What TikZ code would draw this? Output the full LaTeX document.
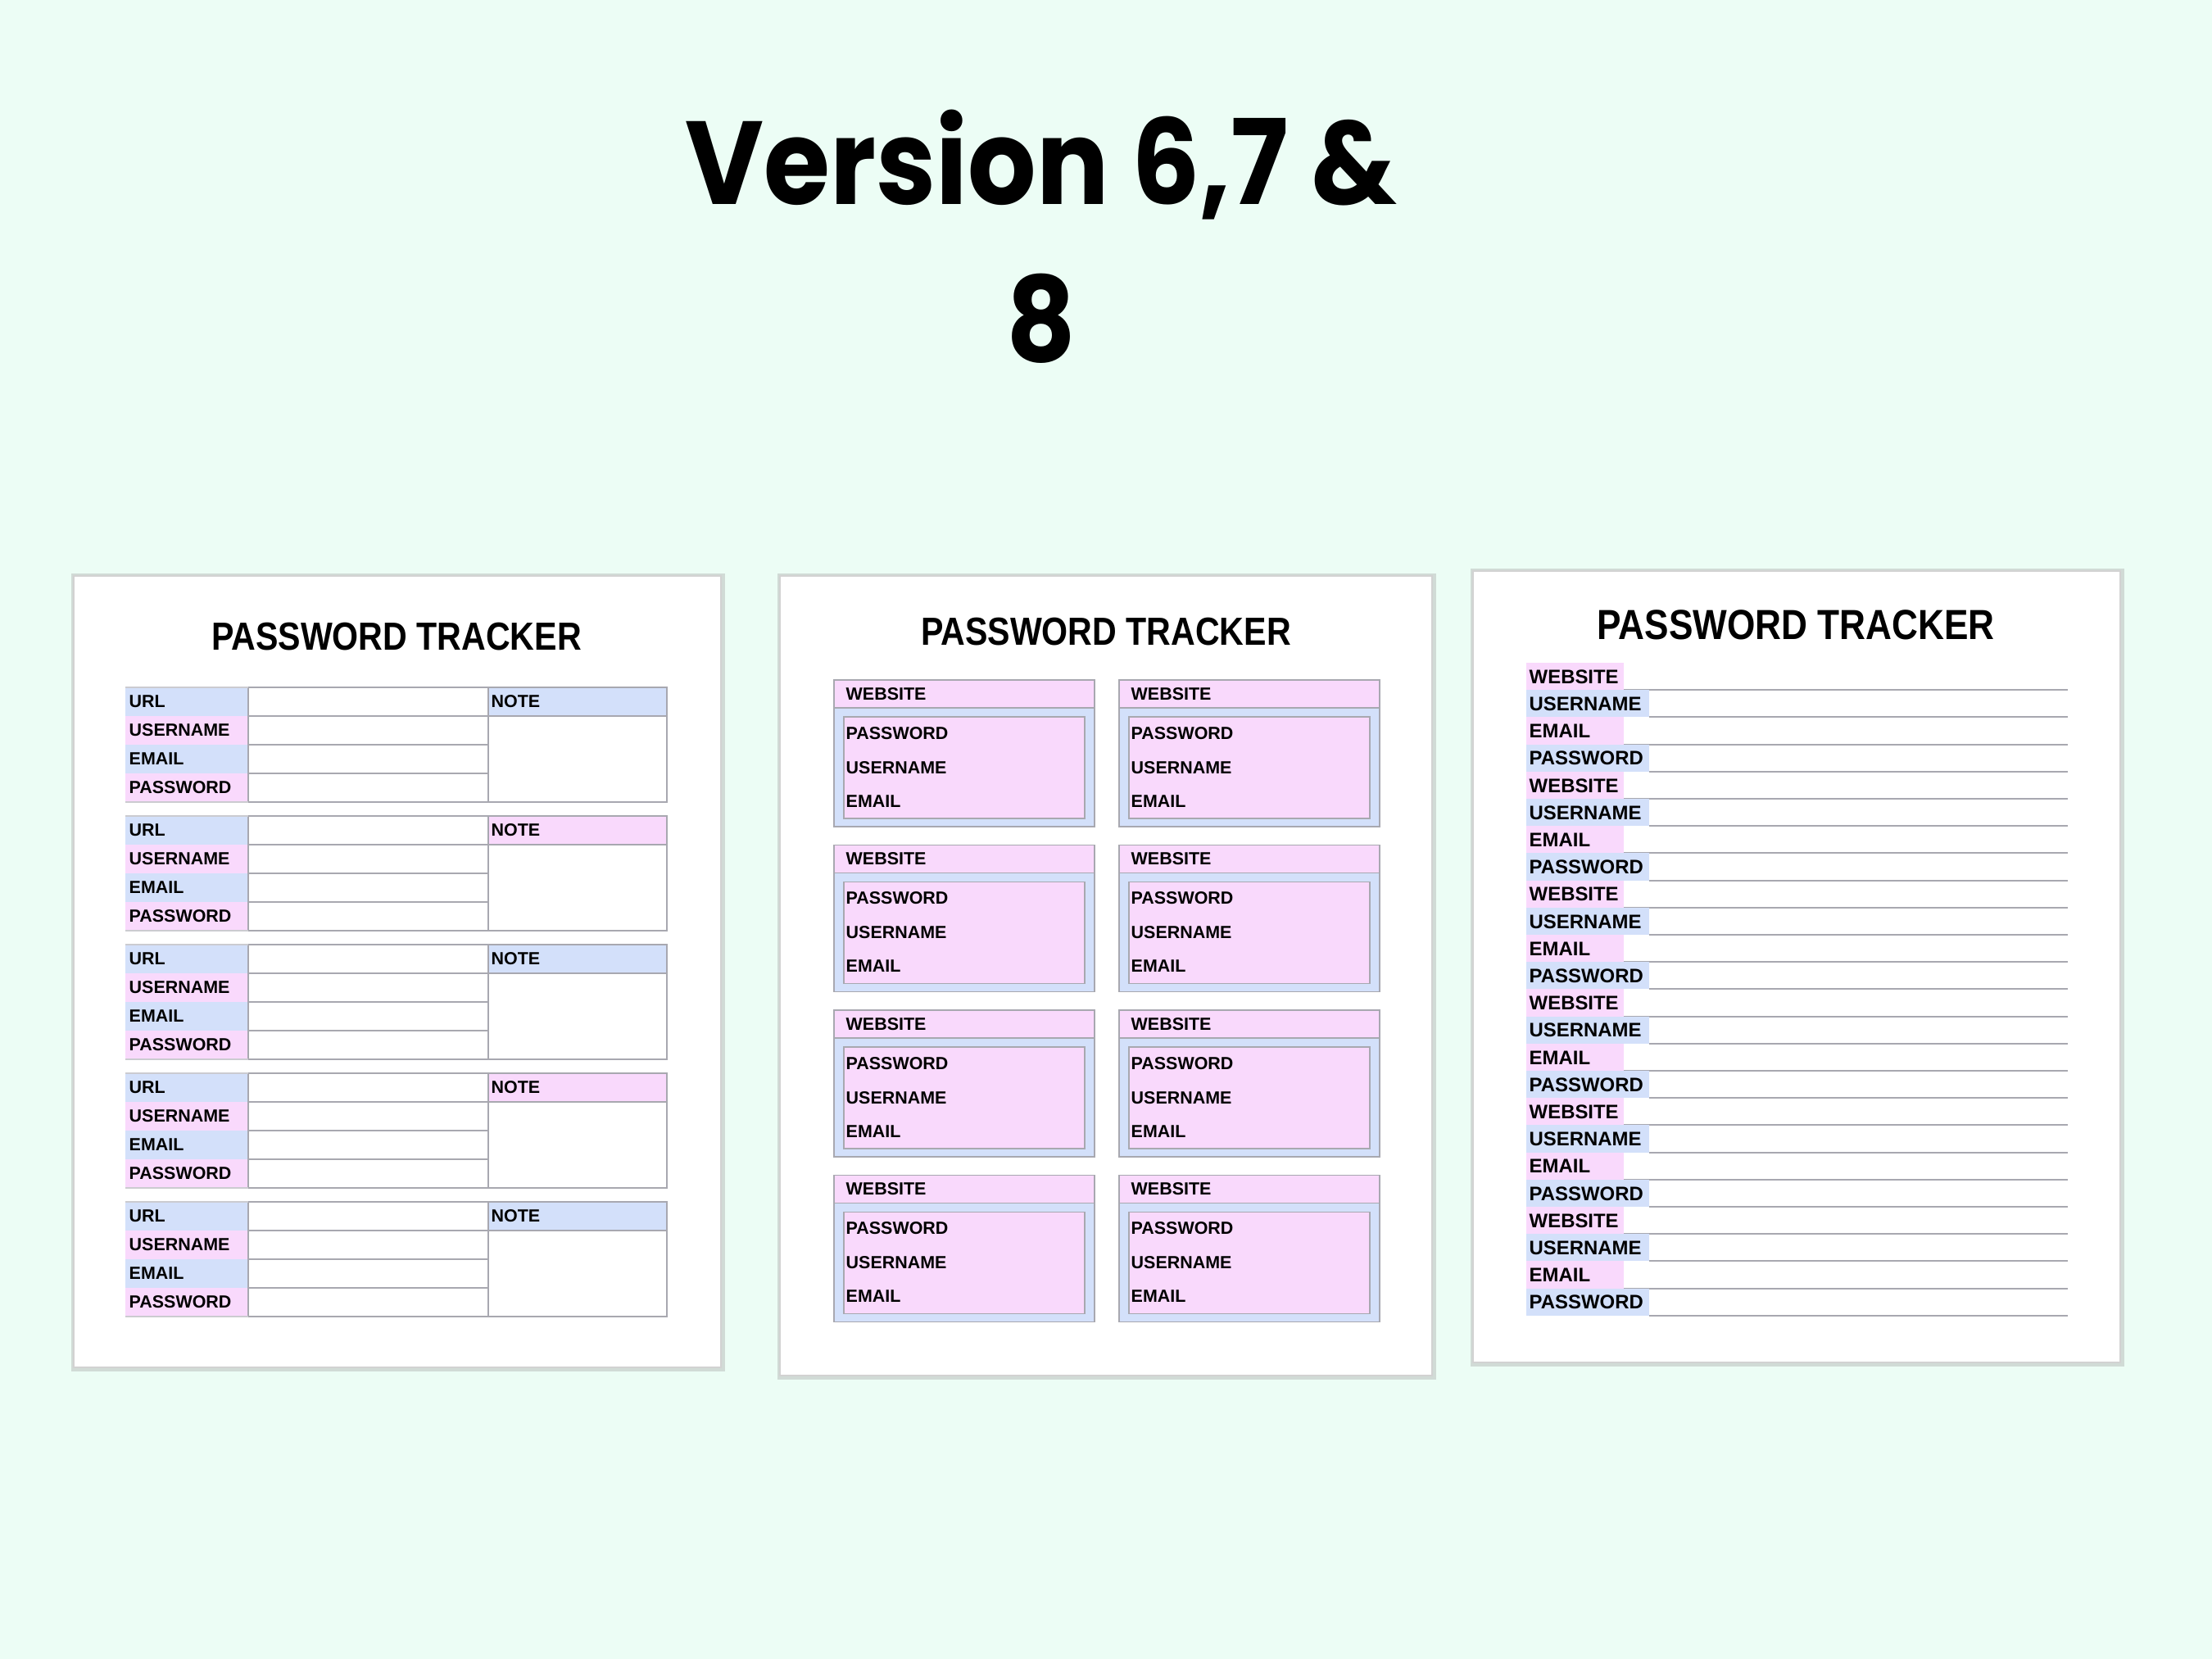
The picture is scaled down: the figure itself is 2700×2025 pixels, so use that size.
\documentclass[tikz,border=0pt]{standalone}
\usepackage{fontspec}
\setmainfont{Liberation Sans}
\newfontfamily\popfont{Poppins}
\definecolor{bgc}{HTML}{ECFDF5}
\definecolor{lblue}{HTML}{D3E0FA}
\definecolor{lpink}{HTML}{F9D9FC}
\definecolor{lnc}{HTML}{A8A8B0}
\tikzset{
  sheet/.style={fill=white,draw=gray!35,line width=0.4pt},
  shad/.style={fill=gray!60,opacity=0.45},
  cell/.style={draw=lnc,line width=0.5pt},
  lab/.style={anchor=west,inner sep=0pt,font=\fontsize{6.1}{7}\selectfont\bfseries},
  lab3/.style={anchor=west,inner sep=0pt,font=\fontsize{6.8}{8}\selectfont\bfseries},
  ttl/.style={font=\fontsize{13.6}{15}\selectfont\bfseries,inner sep=0pt,xscale=0.86},
  big/.style={font=\fontsize{41}{48}\selectfont\popfont\bfseries,inner sep=0pt,xscale=0.91},
}
\begin{document}
\begin{tikzpicture}[x=0.01cm,y=-0.01cm]
\fill[bgc] (0,0) rectangle (2700,2025);
\useasboundingbox (0,0) rectangle (2700,2025);
\node[big] (v1) at (1271,201) {Version 6,7 \&};
\node[big] (v2) at (1271,389) {8};
% page shadows and sheets
\foreach \xa/\ya/\xb/\yb/\n in {90/703/880/1669/1,952/703/1748/1679/2,1798/697/2588/1663/3}{
  \fill[shad] (\xa-3,\ya-3) rectangle (\xb+5,\yb+5);
  \draw[sheet] (\xa,\ya) rectangle (\xb,\yb);
}
% page 1
\node[ttl] (t1) at (484,777) {PASSWORD TRACKER};
\foreach \b in {0,...,4}{
  \pgfmathsetmacro{\t}{839+157*\b}
  \pgfmathtruncatemacro{\bpar}{mod(\b,2)}
  \foreach \r/\txt in {0/URL,1/USERNAME,2/EMAIL,3/PASSWORD}{
    \pgfmathsetmacro{\y}{\t+35*\r}
    \pgfmathtruncatemacro{\rp}{mod(\r,2)}
    \ifnum\rp=0 \def\cc{lblue}\else\def\cc{lpink}\fi
    \fill[\cc] (153,\y) rectangle (303,\y+35);
    \draw[cell] (303,\y) rectangle (596,\y+35);
    \node[lab] (p1l\b\r) at (157,\y+17.5) {\txt};
  }
  \ifnum\bpar=0 \def\nc{lblue}\else\def\nc{lpink}\fi
  \draw[cell,fill=\nc] (596,\t) rectangle (814,\t+35);
  \draw[cell] (596,\t+35) rectangle (814,\t+140);
  \draw[draw=lnc!60,line width=0.4pt] (153,\t) -- (303,\t) (153,\t+140) -- (303,\t+140);
  \node[lab] (p1n\b) at (599,\t+17.5) {NOTE};
}
% page 2
\node[ttl] (t2) at (1350,771) {PASSWORD TRACKER};
\foreach \c/\ci in {1018/a,1366/b}{
  \foreach \k in {0,...,3}{
    \pgfmathsetmacro{\t}{830+201.5*\k}
    \draw[cell,fill=lblue] (\c,\t) rectangle (\c+318,\t+179);
    \draw[cell,fill=lpink] (\c,\t) rectangle (\c+318,\t+34);
    \draw[cell,fill=lpink] (\c+12,\t+45) rectangle (\c+306,\t+169);
    \node[lab] (w\ci\k) at (\c+14,\t+17) {WEBSITE};
    \node[lab] (p\ci\k) at (\c+14,\t+65) {PASSWORD};
    \node[lab] (u\ci\k) at (\c+14,\t+107) {USERNAME};
    \node[lab] (e\ci\k) at (\c+14,\t+148) {EMAIL};
  }
}
% page 3
\node[ttl,font=\fontsize{14.6}{16}\selectfont\bfseries] (t3) at (2192,763) {PASSWORD TRACKER};
\foreach \i in {0,...,23}{
  \pgfmathsetmacro{\y}{809+33.2*\i}
  \pgfmathtruncatemacro{\m}{mod(\i,4)}
  \ifcase\m \def\txt{WEBSITE}\def\cc{lpink}\def\w{119}%
  \or \def\txt{USERNAME}\def\cc{lblue}\def\w{150}%
  \or \def\txt{EMAIL}\def\cc{lpink}\def\w{119}%
  \or \def\txt{PASSWORD}\def\cc{lblue}\def\w{150}\fi
  \fill[\cc] (1863,\y) rectangle (1863+\w,\y+33.2);
  \draw[lnc,line width=0.6pt] (1863+\w,\y+33.2) -- (2524,\y+33.2);
  \node[lab3] (r\i) at (1866,\y+17) {\txt};
}
\end{tikzpicture}
\end{document}
